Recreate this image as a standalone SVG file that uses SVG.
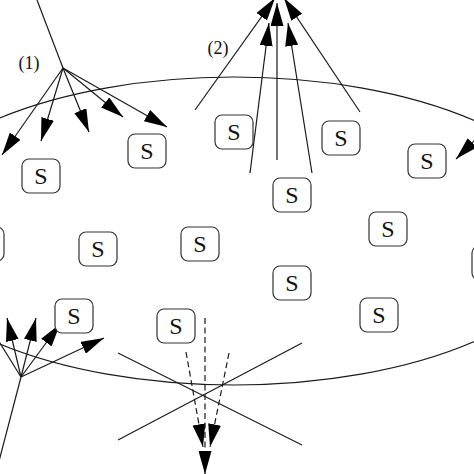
<svg xmlns="http://www.w3.org/2000/svg" width="474" height="474" viewBox="0 0 474 474">
<defs>
<style>
.ln{stroke:#1a1a1a;stroke-width:1.2;fill:none}
.ar{marker-end:url(#ah)}
.da{stroke-dasharray:6 3.5}
.box rect{fill:#fff;stroke:#333;stroke-width:1.2}
.box text{font-family:"Liberation Serif","DejaVu Serif",serif;font-size:24px;fill:#111;text-anchor:middle}
.lbl{font-family:"Liberation Serif","DejaVu Serif",serif;font-size:18px;fill:#111;text-anchor:middle}
</style>
<marker id="ah" markerUnits="userSpaceOnUse" markerWidth="25" markerHeight="13" refX="23" refY="6.5" orient="auto">
<path d="M0,0 L23,6.5 L0,13 z" fill="#000"/>
</marker>
</defs>
<rect width="474" height="474" fill="#fff"/>
<g id="region">
<ellipse class="ln" cx="234" cy="231" rx="345" ry="154"/>
</g>
<g id="connectors">
<line class="ln" x1="37" y1="0" x2="63" y2="68"/>
<line class="ln ar" x1="63" y1="68" x2="2" y2="155"/>
<line class="ln ar" x1="63" y1="68" x2="41" y2="141"/>
<line class="ln ar" x1="63" y1="68" x2="89" y2="132"/>
<line class="ln ar" x1="63" y1="68" x2="123" y2="117"/>
<line class="ln ar" x1="63" y1="68" x2="167" y2="127"/>
<line class="ln ar" x1="195" y1="110" x2="275" y2="-2"/>
<line class="ln ar" x1="250" y1="173" x2="269" y2="23"/>
<line class="ln ar" x1="277" y1="160" x2="277" y2="3"/>
<line class="ln ar" x1="312" y1="173" x2="288" y2="23"/>
<line class="ln ar" x1="360" y1="112" x2="284" y2="-2"/>
<line class="ln ar" x1="495" y1="120" x2="456" y2="159"/>
<line class="ln" x1="21" y1="377" x2="-2" y2="465"/>
<line class="ln" x1="21" y1="377" x2="-5" y2="335"/>
<line class="ln ar" x1="21" y1="377" x2="7" y2="318"/>
<line class="ln ar" x1="21" y1="377" x2="36" y2="318"/>
<line class="ln ar" x1="21" y1="377" x2="60" y2="324"/>
<line class="ln ar" x1="21" y1="377" x2="104" y2="338"/>
<line class="ln" x1="118" y1="353" x2="302" y2="445"/>
<line class="ln" x1="118" y1="440" x2="302" y2="343"/>
<line class="ln da ar" x1="186" y1="352" x2="203" y2="447"/>
<line class="ln da ar" x1="205" y1="318" x2="205" y2="474"/>
<line class="ln da ar" x1="229" y1="353" x2="210" y2="447"/>
</g>
<text class="lbl" x="29" y="69">(1)</text>
<text class="lbl" x="218" y="54">(2)</text>
<g id="s1" class="box"><rect x="128" y="134" width="38" height="34" rx="7"/><text x="147" y="159">S</text></g>
<g id="s2" class="box"><rect x="22" y="159" width="38" height="34" rx="7"/><text x="41" y="184">S</text></g>
<g id="s3" class="box"><rect x="215" y="115" width="38" height="34" rx="7"/><text x="234" y="140">S</text></g>
<g id="s4" class="box"><rect x="322" y="121" width="38" height="34" rx="7"/><text x="341" y="146">S</text></g>
<g id="s5" class="box"><rect x="408" y="144" width="38" height="34" rx="7"/><text x="427" y="169">S</text></g>
<g id="s6" class="box"><rect x="273" y="178" width="38" height="34" rx="7"/><text x="292" y="203">S</text></g>
<g id="s7" class="box"><rect x="369" y="212" width="38" height="34" rx="7"/><text x="388" y="237">S</text></g>
<g id="s8" class="box"><rect x="79" y="232" width="38" height="34" rx="7"/><text x="98" y="257">S</text></g>
<g id="s9" class="box"><rect x="181" y="227" width="38" height="34" rx="7"/><text x="200" y="252">S</text></g>
<g id="s10" class="box"><rect x="273" y="266" width="38" height="34" rx="7"/><text x="292" y="291">S</text></g>
<g id="s11" class="box"><rect x="360" y="298" width="38" height="34" rx="7"/><text x="379" y="323">S</text></g>
<g id="s12" class="box"><rect x="55" y="299" width="38" height="34" rx="7"/><text x="74" y="324">S</text></g>
<g id="s13" class="box"><rect x="157" y="309" width="38" height="34" rx="7"/><text x="176" y="334">S</text></g>
<g id="s14" class="box"><rect x="-34" y="227" width="38" height="34" rx="7"/></g>
<g id="s15" class="box"><rect x="472" y="246" width="38" height="34" rx="7"/></g>
</svg>
